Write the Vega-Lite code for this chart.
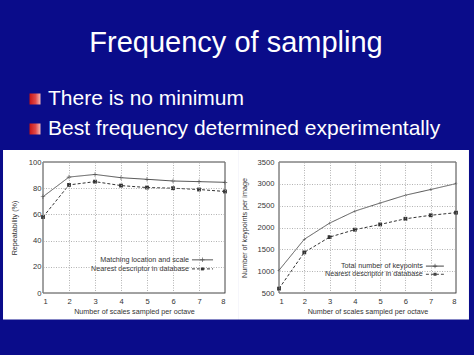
{
  "$schema": "https://vega.github.io/schema/vega-lite/v6.json",
  "background": "#0a0c8a",
  "padding": {"left": 3, "top": 29, "right": 5, "bottom": 36},
  "title": {"text": "Frequency of sampling", "color": "white", "fontSize": 29, "font": "Liberation Sans", "fontWeight": "normal", "anchor": "middle", "offset": 26},
  "config": {
    "view": {"stroke": null},
    "font": "Liberation Sans",
    "axis": {"labelFont": "Liberation Sans", "labelFontSize": 7.6, "labelColor": "#333", "titleFont": "Liberation Sans", "titleFontSize": 7.2, "titleFontWeight": "normal", "titleColor": "#333", "ticks": false, "domain": false, "grid": true, "gridColor": "#a0a0a0", "gridDash": [1, 1.5], "gridWidth": 0.8, "gridOpacity": 1, "zindex": 1, "labelPadding": 4, "labelOverlap": false}
  },
  "spacing": 5,
  "vconcat": [
    {
      "width": 426,
      "height": 60,
      "data": {"values": [{"line": 1, "text": "There is no minimum"}, {"line": 2, "text": "Best frequency determined experimentally"}]},
      "encoding": {
        "y": {"field": "line", "type": "ordinal", "axis": null, "scale": {"type": "point", "padding": 0.5}}
      },
      "layer": [
        {
          "mark": {"type": "square", "size": 121, "opacity": 1, "filled": true, "color": {"gradient": "linear", "x1": 0, "y1": 0, "x2": 1, "y2": 0, "stops": [{"offset": 0, "color": "#c81414"}, {"offset": 0.55, "color": "#e24848"}, {"offset": 1, "color": "#f6b8b8"}]}},
          "encoding": {"x": {"datum": -1.88, "type": "quantitative", "scale": {"domain": [0, 100], "nice": false}, "axis": null}}
        },
        {
          "mark": {"type": "text", "align": "left", "baseline": "middle", "fontSize": 21, "color": "white", "font": "Liberation Sans"},
          "encoding": {"x": {"datum": 1.17, "type": "quantitative", "axis": null}, "text": {"field": "text"}}
        }
      ]
    },
    {
      "spacing": 0,
      "hconcat": [
        {
          "width": 182,
          "height": 131,
          "resolve": {"axis": {"x": "independent", "y": "independent"}},
          "data": {"values": [
            {"scales": 1, "series": "Matching location and scale", "value": 73.5},
            {"scales": 2, "series": "Matching location and scale", "value": 88.5},
            {"scales": 3, "series": "Matching location and scale", "value": 90.5},
            {"scales": 4, "series": "Matching location and scale", "value": 88},
            {"scales": 5, "series": "Matching location and scale", "value": 86.8},
            {"scales": 6, "series": "Matching location and scale", "value": 85.5},
            {"scales": 7, "series": "Matching location and scale", "value": 85},
            {"scales": 8, "series": "Matching location and scale", "value": 84.5},
            {"scales": 1, "series": "Nearest descriptor in database", "value": 58},
            {"scales": 2, "series": "Nearest descriptor in database", "value": 82.5},
            {"scales": 3, "series": "Nearest descriptor in database", "value": 85},
            {"scales": 4, "series": "Nearest descriptor in database", "value": 82},
            {"scales": 5, "series": "Nearest descriptor in database", "value": 80.5},
            {"scales": 6, "series": "Nearest descriptor in database", "value": 80},
            {"scales": 7, "series": "Nearest descriptor in database", "value": 79},
            {"scales": 8, "series": "Nearest descriptor in database", "value": 77.5}
          ]},
          "layer": [
            {
              "data": {"values": [{}]},
              "mark": {"type": "rect", "fill": "white", "strokeWidth": 0},
              "encoding": {
                "x": {"datum": -0.538, "type": "quantitative", "scale": {"domain": [1, 8], "nice": false}, "axis": null},
                "x2": {"datum": 8.5},
                "y": {"datum": 109.16, "type": "quantitative", "scale": {"domain": [0, 100], "nice": false}, "axis": null},
                "y2": {"datum": -20.2}
              }
            },
            {
              "mark": {"type": "line", "strokeWidth": 1},
              "encoding": {
                "x": {"field": "scales", "type": "quantitative", "axis": {"values": [1, 2, 3, 4, 5, 6, 7, 8], "format": "d", "grid": true, "title": "Number of scales sampled per octave", "titlePadding": 3, "zindex": 1, "labelColor": "#333", "titleColor": "#333"}},
                "y": {"field": "value", "type": "quantitative", "axis": {"values": [0, 20, 40, 60, 80, 100], "grid": true, "labelPadding": 2, "title": "Repeatability (%)", "titlePadding": 10, "zindex": 1, "labelColor": "#333", "titleColor": "#333"}},
                "color": {"field": "series", "type": "nominal", "scale": {"domain": ["Matching location and scale", "Nearest descriptor in database"], "range": ["#555", "#333"]}, "legend": null},
                "strokeDash": {"field": "series", "type": "nominal", "scale": {"domain": ["Matching location and scale", "Nearest descriptor in database"], "range": [[1, 0], [3, 2]]}, "legend": null}
              }
            },
            {
              "mark": {"type": "point", "filled": true, "opacity": 1},
              "encoding": {
                "x": {"field": "scales", "type": "quantitative", "axis": null},
                "y": {"field": "value", "type": "quantitative", "axis": null},
                "color": {"field": "series", "type": "nominal", "legend": null},
                "shape": {"field": "series", "type": "nominal", "scale": {"domain": ["Matching location and scale", "Nearest descriptor in database"], "range": ["M-1,-0.15H1V0.15H-1Z M-0.15,-1H0.15V1H-0.15Z", "square"]}, "legend": null},
                "size": {"field": "series", "type": "nominal", "scale": {"domain": ["Matching location and scale", "Nearest descriptor in database"], "range": [20, 9]}, "legend": null}
              }
            },
            {
              "data": {"values": [{}]},
              "mark": {"type": "rect", "filled": false, "color": "#444", "strokeWidth": 1},
              "encoding": {"x": {"datum": 1, "axis": null}, "x2": {"datum": 8}, "y": {"datum": 0, "axis": null}, "y2": {"datum": 100}}
            },
            {
              "data": {"values": [{}]},
              "mark": {"type": "text", "align": "right", "baseline": "middle", "fontSize": 7.2, "color": "#333", "text": "Matching location and scale"},
              "encoding": {"x": {"datum": 6.615, "axis": null}, "y": {"datum": 25.3, "axis": null}}
            },
            {
              "data": {"values": [{}]},
              "mark": {"type": "text", "align": "right", "baseline": "middle", "fontSize": 7.2, "color": "#333", "text": "Nearest descriptor in database"},
              "encoding": {"x": {"datum": 6.615, "axis": null}, "y": {"datum": 18.4, "axis": null}}
            },
            {
              "data": {"values": [{}]},
              "mark": {"type": "rule", "color": "#555", "strokeWidth": 1},
              "encoding": {"x": {"datum": 6.73, "axis": null}, "x2": {"datum": 7.54}, "y": {"datum": 25.3, "axis": null}}
            },
            {
              "data": {"values": [{}]},
              "mark": {"type": "rule", "color": "#333", "strokeWidth": 1, "strokeDash": [3, 2]},
              "encoding": {"x": {"datum": 6.73, "axis": null}, "x2": {"datum": 7.54}, "y": {"datum": 18.4, "axis": null}}
            },
            {
              "data": {"values": [{}]},
              "mark": {"type": "point", "filled": true, "opacity": 1, "color": "#555", "size": 20, "shape": "M-1,-0.15H1V0.15H-1Z M-0.15,-1H0.15V1H-0.15Z"},
              "encoding": {"x": {"datum": 7.13, "axis": null}, "y": {"datum": 25.3, "axis": null}}
            },
            {
              "data": {"values": [{}]},
              "mark": {"type": "point", "filled": true, "opacity": 1, "color": "#333", "size": 9, "shape": "square"},
              "encoding": {"x": {"datum": 7.13, "axis": null}, "y": {"datum": 18.4, "axis": null}}
            }
          ]
        },
        {
          "width": 177,
          "height": 131,
          "resolve": {"axis": {"x": "independent", "y": "independent"}},
          "data": {"values": [
            {"scales": 1, "series": "Total number of keypoints", "value": 1020},
            {"scales": 2, "series": "Total number of keypoints", "value": 1730},
            {"scales": 3, "series": "Total number of keypoints", "value": 2100},
            {"scales": 4, "series": "Total number of keypoints", "value": 2375},
            {"scales": 5, "series": "Total number of keypoints", "value": 2560},
            {"scales": 6, "series": "Total number of keypoints", "value": 2740},
            {"scales": 7, "series": "Total number of keypoints", "value": 2870},
            {"scales": 8, "series": "Total number of keypoints", "value": 3005},
            {"scales": 1, "series": "Nearest descriptor in database", "value": 600},
            {"scales": 2, "series": "Nearest descriptor in database", "value": 1430},
            {"scales": 3, "series": "Nearest descriptor in database", "value": 1780},
            {"scales": 4, "series": "Nearest descriptor in database", "value": 1950},
            {"scales": 5, "series": "Nearest descriptor in database", "value": 2070},
            {"scales": 6, "series": "Nearest descriptor in database", "value": 2200},
            {"scales": 7, "series": "Nearest descriptor in database", "value": 2280},
            {"scales": 8, "series": "Nearest descriptor in database", "value": 2340}
          ]},
          "layer": [
            {
              "data": {"values": [{}]},
              "mark": {"type": "rect", "fill": "white", "strokeWidth": 0},
              "encoding": {
                "x": {"datum": -0.62, "type": "quantitative", "scale": {"domain": [1, 8], "nice": false}, "axis": null},
                "x2": {"datum": 8.513},
                "y": {"datum": 3775, "type": "quantitative", "scale": {"domain": [500, 3500], "nice": false, "zero": false}, "axis": null},
                "y2": {"datum": -107}
              }
            },
            {
              "mark": {"type": "line", "strokeWidth": 1},
              "encoding": {
                "x": {"field": "scales", "type": "quantitative", "axis": {"values": [1, 2, 3, 4, 5, 6, 7, 8], "format": "d", "grid": true, "title": "Number of scales sampled per octave", "titlePadding": 3, "zindex": 1, "labelColor": "#333", "titleColor": "#333"}},
                "y": {"field": "value", "type": "quantitative", "axis": {"values": [500, 1000, 1500, 2000, 2500, 3000, 3500], "format": "d", "grid": true, "labelPadding": 5, "title": "Number of keypoints per image", "titlePadding": 9, "zindex": 1, "labelColor": "#333", "titleColor": "#333"}},
                "color": {"field": "series", "type": "nominal", "scale": {"domain": ["Total number of keypoints", "Nearest descriptor in database"], "range": ["#444", "#444"]}, "legend": null},
                "strokeDash": {"field": "series", "type": "nominal", "scale": {"domain": ["Total number of keypoints", "Nearest descriptor in database"], "range": [[1, 0], [3, 2]]}, "legend": null}
              }
            },
            {
              "mark": {"type": "point", "filled": true, "opacity": 1},
              "encoding": {
                "x": {"field": "scales", "type": "quantitative", "axis": null},
                "y": {"field": "value", "type": "quantitative", "axis": null},
                "color": {"field": "series", "type": "nominal", "legend": null},
                "shape": {"field": "series", "type": "nominal", "scale": {"domain": ["Total number of keypoints", "Nearest descriptor in database"], "range": ["M-1,-0.15H1V0.15H-1Z M-0.15,-1H0.15V1H-0.15Z", "square"]}, "legend": null},
                "size": {"field": "series", "type": "nominal", "scale": {"domain": ["Total number of keypoints", "Nearest descriptor in database"], "range": [20, 9]}, "legend": null}
              }
            },
            {
              "data": {"values": [{}]},
              "mark": {"type": "rect", "filled": false, "color": "#444", "strokeWidth": 1},
              "encoding": {"x": {"datum": 1, "axis": null}, "x2": {"datum": 8}, "y": {"datum": 500, "axis": null}, "y2": {"datum": 3500}}
            },
            {
              "data": {"values": [{}]},
              "mark": {"type": "text", "align": "right", "baseline": "middle", "fontSize": 7.2, "color": "#333", "text": "Total number of keypoints"},
              "encoding": {"x": {"datum": 6.69, "axis": null}, "y": {"datum": 1116, "axis": null}}
            },
            {
              "data": {"values": [{}]},
              "mark": {"type": "text", "align": "right", "baseline": "middle", "fontSize": 7.2, "color": "#333", "text": "Nearest descriptor in database"},
              "encoding": {"x": {"datum": 6.69, "axis": null}, "y": {"datum": 929, "axis": null}}
            },
            {
              "data": {"values": [{}]},
              "mark": {"type": "rule", "color": "#444", "strokeWidth": 1},
              "encoding": {"x": {"datum": 6.81, "axis": null}, "x2": {"datum": 7.52}, "y": {"datum": 1116, "axis": null}}
            },
            {
              "data": {"values": [{}]},
              "mark": {"type": "rule", "color": "#444", "strokeWidth": 1, "strokeDash": [3, 2]},
              "encoding": {"x": {"datum": 6.81, "axis": null}, "x2": {"datum": 7.52}, "y": {"datum": 929, "axis": null}}
            },
            {
              "data": {"values": [{}]},
              "mark": {"type": "point", "filled": true, "opacity": 1, "color": "#444", "size": 20, "shape": "M-1,-0.15H1V0.15H-1Z M-0.15,-1H0.15V1H-0.15Z"},
              "encoding": {"x": {"datum": 7.17, "axis": null}, "y": {"datum": 1116, "axis": null}}
            },
            {
              "data": {"values": [{}]},
              "mark": {"type": "point", "filled": true, "opacity": 1, "color": "#444", "size": 9, "shape": "square"},
              "encoding": {"x": {"datum": 7.17, "axis": null}, "y": {"datum": 929, "axis": null}}
            }
          ]
        }
      ]
    }
  ]
}
